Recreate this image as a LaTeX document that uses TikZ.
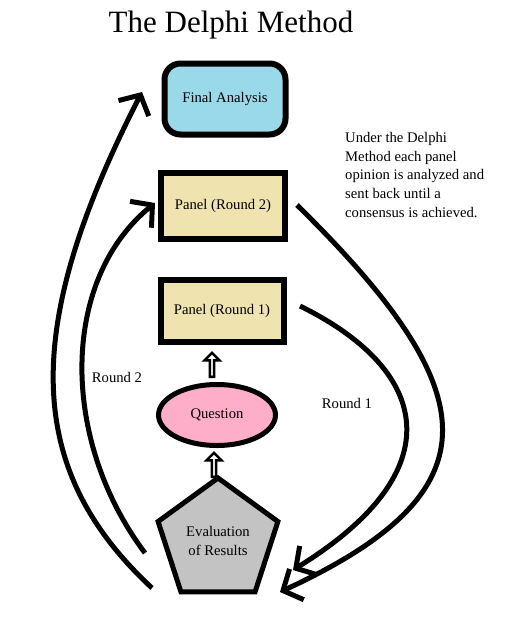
\documentclass[tikz,border=0pt]{standalone}
\usepackage{fontspec}
\setmainfont{Liberation Serif}
\usetikzlibrary{arrows.meta,shapes.geometric,shapes.arrows,calc}
\definecolor{fablue}{RGB}{153,217,234}
\definecolor{pbeige}{RGB}{239,228,176}
\definecolor{qpink}{RGB}{255,174,201}
\definecolor{egray}{RGB}{195,195,195}
\begin{document}
\begin{tikzpicture}[x=1pt,y=-1pt,
  txt/.style={font=\fontsize{14.67}{18.8}\selectfont},
  box/.style={draw=black,line width=6pt,txt,inner sep=0pt},
  curv/.style={line width=5pt,-{Straight Barb[length=15pt,width=34pt]}},
  blockarrow/.style={single arrow, draw=black, line width=2.5pt, fill=white,
    shape border rotate=90, minimum height=24pt, minimum width=15pt,
    single arrow head extend=3pt, inner sep=0pt}]
\useasboundingbox (0,0) rectangle (517,630);
\node[font=\fontsize{31}{36}\selectfont] (title) at (231,25) {The Delphi Method};
\node[box, fill=fablue, rounded corners=16pt, minimum width=121pt, minimum height=71pt] (fa) at (225,99) {Final Analysis};
\node[box, fill=pbeige, minimum width=124pt, minimum height=66pt] (p2) at (223,206) {Panel (Round 2)};
\node[box, fill=pbeige, minimum width=123pt, minimum height=62pt] (p1) at (222,311) {Panel (Round 1)};
\node[box, ellipse, line width=5pt, fill=qpink, minimum width=117pt, minimum height=61pt] (q) at (217,415) {Question};
\node[box, regular polygon, regular polygon sides=5, line width=5pt, fill=egray, minimum size=126pt, align=center] (ev) at (218,541) {Evaluation\\of Results};
\node[blockarrow] (a1) at (212,366) {};
\node[blockarrow] (a2) at (214,466) {};
\node[txt] (r2) at (117,377) {Round 2};
\node[txt] (r1) at (347,403) {Round 1};
\node[txt, anchor=north west, align=left, inner sep=0pt] (note) at (345,132) {Under the Delphi\\Method each panel\\opinion is analyzed and\\sent back until a\\consensus is achieved.};
% curved connectors
\draw[curv] ($(ev.center)+(-66,47)$) .. controls (25,470) and (20,330) .. ($(fa.center)+(-83,-7)$);
\draw[curv] ($(ev.center)+(-73,12)$) .. controls (60,440) and (60,280) .. ($(p2.center)+(-68,-3)$);
\draw[curv] ($(p1.center)+(78,-5)$) .. controls (430,370) and (455,470) .. ($(ev.center)+(75,29)$);
\draw[curv] ($(p2.center)+(74,-1)$) .. controls (485,390) and (501,490) .. ($(ev.center)+(62,51)$);
\end{tikzpicture}
\end{document}
